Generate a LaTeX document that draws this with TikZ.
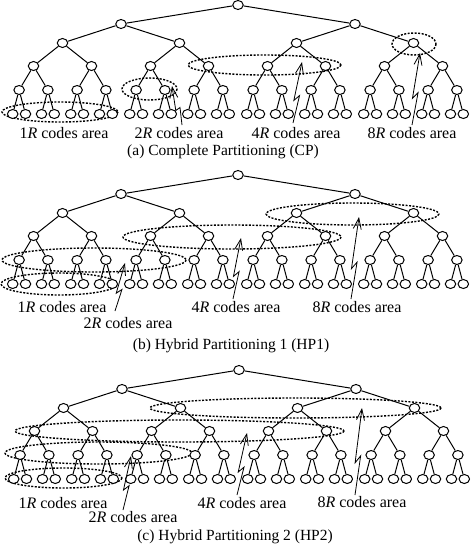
\documentclass[tikz,border=0pt]{standalone}
\usepackage{fontspec}
\setmainfont{Liberation Serif}
\usetikzlibrary{arrows.meta,calc,shapes.geometric}
\tikzset{>={Straight Barb[length=11pt,width=8pt]}}
\tikzset{
	vertex/.style={draw,ellipse,fill=white,inner sep=0pt,minimum width=10.5pt,minimum height=9pt,line width=1pt},
	edge/.style={line width=1pt},
	area/.style={line width=1.4pt,dash pattern=on 2pt off 1.5pt},
	bolt/.style={->,line width=0.8pt},
	lbl/.style={font=\fontsize{16}{19}\selectfont,inner sep=0pt},
	capt/.style={font=\fontsize{15.5}{18}\selectfont,inner sep=0pt}
}
% binary code tree of depth 5: prefix, root x, root y
\newcommand{\codetree}[3]{%
	\node[vertex] (#1-0-0) at (#2,#3) {};
	\foreach \lev/\up/\dx/\dy/\num in {1/0/117/19/1,2/1/58.5/19/3,3/2/29/23/7,4/3/14.4/24/15,5/4/6.4/24/31}{
		\foreach \i in {0,...,\num}{
			\pgfmathtruncatemacro{\pidx}{floor(\i/2)}
			\pgfmathsetmacro{\sgn}{2*mod(\i,2)-1}
			\node[vertex] (#1-\lev-\i) at ($(#1-\up-\pidx)+(\sgn*\dx,\dy)$) {};
			\draw[edge] (#1-\up-\pidx) -- (#1-\lev-\i);
		}
	}
}
% zigzag pointer from label to code area
\newcommand{\bolt}[2]{\draw[bolt] (#1) -- ($(#1)!0.45!(#2)+(2.5,0)$) -- ($(#1)!0.37!(#2)+(-2.5,0)$) -- (#2);}

\begin{document}
\begin{tikzpicture}[x=1pt,y=-1pt]
		% border
		\useasboundingbox (0,0) rectangle (474,546);

		% code areas (a)
		\draw[area] (60,112) ellipse [x radius=58,y radius=10];
		\draw[area] (149.5,89) ellipse [x radius=27.5,y radius=11];
		\draw[area] (264.5,65) ellipse [x radius=76.5,y radius=10];
		\draw[area] (414,44) ellipse [x radius=22,y radius=11];
		% code areas (b)
		\draw[area] (59,284) ellipse [x radius=58,y radius=11];
		\draw[area] (94,260) ellipse [x radius=92,y radius=12];
		\draw[area] (232,237) ellipse [x radius=109,y radius=12];
		\draw[area] (352.5,214) ellipse [x radius=86.5,y radius=11];
		% code areas (c)
		\draw[area] (63.5,478) ellipse [x radius=58.5,y radius=10];
		\draw[area] (98.5,453) ellipse [x radius=93.5,y radius=11];
		\draw[area] (179.5,431) ellipse [x radius=164.5,y radius=11];
		\draw[area] (295.5,408) ellipse [x radius=145.5,y radius=10];

		% trees
		\codetree{a}{238}{5}
		\codetree{b}{238}{175}
		\codetree{c}{239}{370}

		% labels (a)
		\node[lbl] (a1) at (64,133) {1\textit{R} codes area};
		\node[lbl] (a2) at (179,133) {2\textit{R} codes area};
		\node[lbl] (a4) at (296,133) {4\textit{R} codes area};
		\node[lbl] (a8) at (412,133) {8\textit{R} codes area};
		\node[capt] (ca) at (223,152) {(a) Complete Partitioning (CP)};
		% labels (b)
		\node[lbl] (b1) at (62,307) {1\textit{R} codes area};
		\node[lbl] (b2) at (128,323) {2\textit{R} codes area};
		\node[lbl] (b4) at (236,307) {4\textit{R} codes area};
		\node[lbl] (b8) at (357,307) {8\textit{R} codes area};
		\node[capt] (cb) at (231,346) {(b) Hybrid Partitioning 1 (HP1)};
		% labels (c)
		\node[lbl] (c1) at (63,503) {1\textit{R} codes area};
		\node[lbl] (c2) at (133,517) {2\textit{R} codes area};
		\node[lbl] (c4) at (242,503) {4\textit{R} codes area};
		\node[lbl] (c8) at (362,502) {8\textit{R} codes area};
		\node[capt] (cc) at (235,537) {(c) Hybrid Partitioning 2 (HP2)};

		% pointers
		\coordinate (a2s) at (182,125); \coordinate (a2t) at (172,86);
		\coordinate (a4s) at (293,123); \coordinate (a4t) at (302,62);
		\coordinate (a8s) at (412,125); \coordinate (a8t) at (420,53);
		\coordinate (b2s) at (115,311); \coordinate (b2t) at (125,263);
		\coordinate (b4s) at (233,299); \coordinate (b4t) at (241,238);
		\coordinate (b8s) at (351,299); \coordinate (b8t) at (359,217);
		\coordinate (c2s) at (123,510); \coordinate (c2t) at (131,456);
		\coordinate (c4s) at (237,495); \coordinate (c4t) at (247,433);
		\coordinate (c8s) at (355,495); \coordinate (c8t) at (362,408);
		\bolt{a2s}{a2t} \bolt{a4s}{a4t} \bolt{a8s}{a8t}
		\bolt{b2s}{b2t} \bolt{b4s}{b4t} \bolt{b8s}{b8t}
		\bolt{c2s}{c2t} \bolt{c4s}{c4t} \bolt{c8s}{c8t}
\end{tikzpicture}
\end{document}
